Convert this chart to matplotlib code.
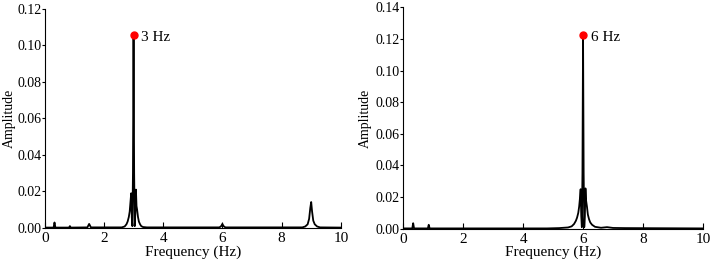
import numpy as np
import matplotlib.pyplot as plt

plt.rcParams['font.family'] = ['Liberation Serif', 'DejaVu Serif']
plt.rcParams['font.size'] = 11

# left spectrum, peak at 3 Hz
freq_a = [0.00, 0.30, 0.33, 0.36, 0.82, 0.85, 0.88, 1.44, 1.50, 1.56,
          2.60, 2.70, 2.76, 2.80, 2.84, 2.87, 2.90, 2.92, 2.94, 2.96,
          2.98, 3.00, 3.02, 3.04, 3.06, 3.08, 3.10, 3.12, 3.15, 3.18,
          3.22, 3.26, 3.32, 3.45, 5.90, 5.96, 6.00, 6.04, 6.10,
          8.70, 8.80, 8.88, 8.93, 8.97, 9.00, 9.03, 9.07, 9.12, 9.20,
          9.30, 10.0]
amp_a = [0.0002, 0.0002, 0.0030, 0.0002, 0.0002, 0.0010, 0.0002, 0.0003, 0.0022, 0.0003,
         0.0003, 0.0008, 0.0020, 0.0035, 0.0060, 0.0090, 0.0150, 0.0190, 0.0060, 0.0010,
         0.0300, 0.1055, 0.0300, 0.0010, 0.0080, 0.0210, 0.0120, 0.0100, 0.0060, 0.0035,
         0.0020, 0.0010, 0.0005, 0.0003, 0.0003, 0.0010, 0.0022, 0.0010, 0.0003,
         0.0003, 0.0008, 0.0020, 0.0050, 0.0110, 0.0142, 0.0090, 0.0040, 0.0020, 0.0008,
         0.0003, 0.0002]

# right spectrum, peak at 6 Hz
freq_b = [0.00, 0.30, 0.33, 0.36, 0.82, 0.85, 0.88, 4.80, 5.20, 5.50,
          5.62, 5.70, 5.76, 5.80, 5.84, 5.87, 5.90, 5.92, 5.94, 5.96,
          5.98, 6.00, 6.02, 6.04, 6.06, 6.08, 6.10, 6.13, 6.16, 6.20,
          6.24, 6.30, 6.40, 6.60, 6.80, 7.00, 7.40, 10.0]
amp_b = [0.0002, 0.0002, 0.0035, 0.0002, 0.0002, 0.0025, 0.0002, 0.0002, 0.0004, 0.0008,
         0.0015, 0.0030, 0.0050, 0.0070, 0.0100, 0.0140, 0.0200, 0.0250, 0.0080, 0.0010,
         0.0350, 0.1225, 0.0350, 0.0010, 0.0080, 0.0255, 0.0180, 0.0140, 0.0090, 0.0060,
         0.0040, 0.0025, 0.0012, 0.0006, 0.0010, 0.0005, 0.0004, 0.0002]

peak_a = (3.0, 0.1055, '3 Hz')
peak_b = (6.0, 0.1225, '6 Hz')

fig = plt.figure(figsize=(7.1, 2.62), dpi=100)
ax1 = fig.add_axes([0.063, 0.130, 0.417, 0.836])
ax2 = fig.add_axes([0.568, 0.127, 0.422, 0.845])

panels = [(ax1, freq_a, amp_a, peak_a, 0.12, -0.096),
          (ax2, freq_b, amp_b, peak_b, 0.14, -0.105)]

for ax, f, a, pk, ymax, ylab_x in panels:
    ax.plot(f, a, '-', color='black', lw=1.3)
    ax.plot(pk[0], pk[1], 'o', color='red', ms=5, zorder=5)
    ax.annotate(pk[2], (pk[0], pk[1]), xytext=(5.5, -1.5),
                textcoords='offset points', va='center', fontsize=11)
    ax.set_xlim(0, 10)
    ax.set_ylim(0, ymax)
    ax.set_xticks(np.arange(0, 11, 2))
    ax.set_yticks(np.arange(0, ymax + 0.001, 0.02))
    ax.yaxis.set_major_formatter(plt.FormatStrFormatter('%.2f'))
    ax.spines['top'].set_visible(False)
    ax.spines['right'].set_visible(False)
    ax.tick_params(axis='x', direction='in', length=4, pad=3)
    ax.tick_params(axis='y', direction='out', length=2, pad=0.5, labelsize=10)
    ax.set_xlabel('Frequency (Hz)', labelpad=0)
    ax.set_ylabel('Amplitude', fontsize=10)
    ax.yaxis.set_label_coords(ylab_x, 0.5)

plt.savefig('out.png', dpi=100)
